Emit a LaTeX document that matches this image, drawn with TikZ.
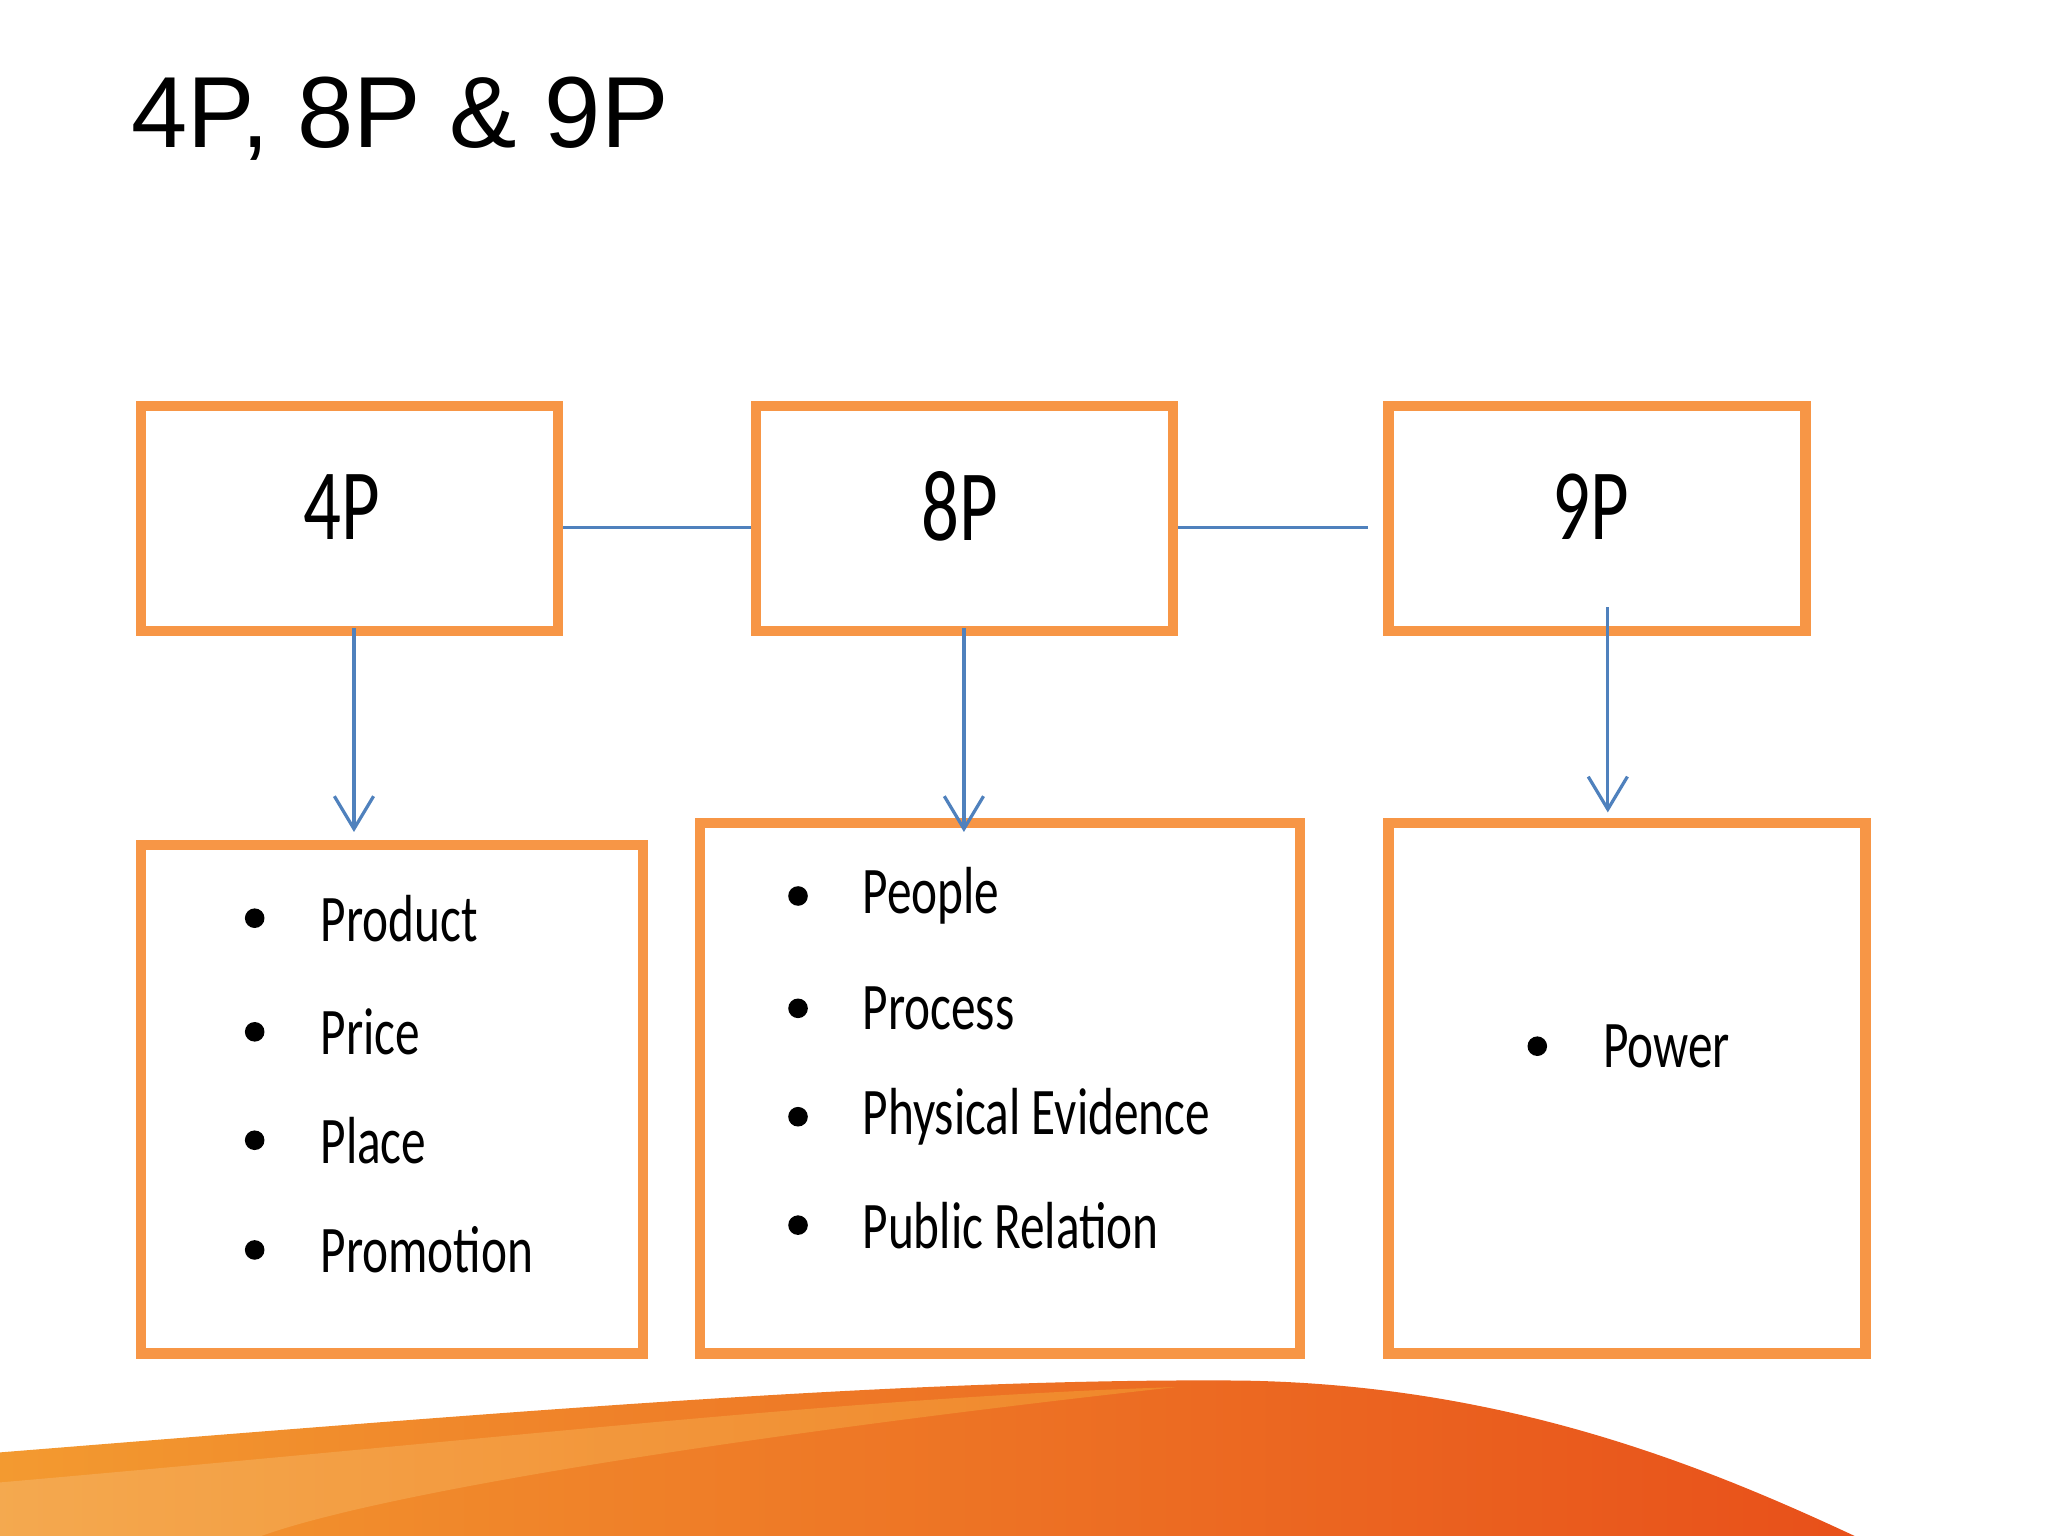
\documentclass[tikz,border=0pt]{standalone}
\usepackage{fontspec}
\setmainfont{Carlito}[FakeStretch=0.74]
\newfontfamily\titlefont{Liberation Sans}
\usetikzlibrary{arrows.meta}
\definecolor{boxorange}{HTML}{F79646}
\definecolor{lineblue}{HTML}{4F81BD}
\definecolor{waveA}{HTML}{F39A30}
\definecolor{waveB}{HTML}{E8501A}
\begin{document}
\begin{tikzpicture}[x=0.01cm,y=-0.01cm,
  box/.style={draw=boxorange,line width=0.08cm,inner sep=0pt,anchor=north west},
  head/.style={font=\fontsize{22pt}{22pt}\selectfont},
  item/.style={font=\fontsize{14.5pt}{15pt}\selectfont,anchor=west},
  dot/.style={circle,fill=black,inner sep=0pt,minimum width=0.11cm,minimum height=0.15cm},
  conn/.style={draw=lineblue,line width=0.7pt},
  arr/.style={conn,-{Straight Barb[length=0.25cm,width=0.3cm]}}]
\useasboundingbox (0,0) rectangle (1568,1176);
\fill[white] (0,0) rectangle (1568,1176);
% wave
\shade[left color=waveA,right color=waveB]
 (0,1176) -- (0,1112) .. controls (400,1080) and (700,1055) .. (950,1057)
 .. controls (1150,1060) and (1300,1120) .. (1420,1176) -- cycle;
\shade[left color=waveA!75!white,right color=waveA,opacity=0.6]
 (0,1176) -- (0,1135) .. controls (400,1100) and (650,1070) .. (900,1062)
 .. controls (600,1095) and (300,1140) .. (200,1176) -- cycle;
\node[anchor=base west,font=\titlefont\fontsize{22pt}{22pt}\selectfont] (title) at (88,113) {4P, 8P \& 9P};
% top boxes
\node[box,minimum width=3.19cm,minimum height=1.72cm] (b4) at (104,307) {};
\node[box,minimum width=3.19cm,minimum height=1.72cm] (b8) at (575,307) {};
\node[box,minimum width=3.19cm,minimum height=1.72cm] (b9) at (1059,307) {};
\node[head] (t4) at (262,388) {4P};
\node[head] (t8) at (735,388) {8P};
\node[head] (t9) at (1218,388) {9P};
% bottom boxes
\node[box,minimum width=3.84cm,minimum height=3.89cm] (l4) at (104,643) {};
\node[box,minimum width=4.59cm,minimum height=4.06cm] (l8) at (532,626) {};
\node[box,minimum width=3.65cm,minimum height=4.06cm] (l9) at (1059,626) {};
% connectors
\coordinate (h1) at (1047,404);
\draw[conn] (b4.east |- 0,404) -- (b8.west |- 0,404);
\draw[conn] (b8.east |- 0,404) -- (h1);
\coordinate (a1s) at (271,481); \coordinate (a1e) at (271,637);
\coordinate (a2s) at (738,481); \coordinate (a2e) at (738,637);
\coordinate (a3s) at (1231,465); \coordinate (a3e) at (1231,622);
\draw[arr] (a1s) -- (a1e);
\draw[arr] (a2s) -- (a2e);
\draw[arr] (a3s) -- (a3e);
% lists
\foreach \y/\t [count=\i] in {703/Product,790/Price,873/Place,957/Promotion}{
  \node[dot] (d4\i) at (195,\y) {};
  \node[item] (i4\i) at (233,\y) {\t};}
\foreach \y/\t [count=\i] in {686/People,772/Process,855/Physical Evidence,938/Public Relation}{
  \node[dot] (d8\i) at (611,\y) {};
  \node[item] (i8\i) at (648,\y) {\t};}
\node[dot] (d91) at (1177,801) {};
\node[item] (i91) at (1215,801) {Power};
\end{tikzpicture}
\end{document}
